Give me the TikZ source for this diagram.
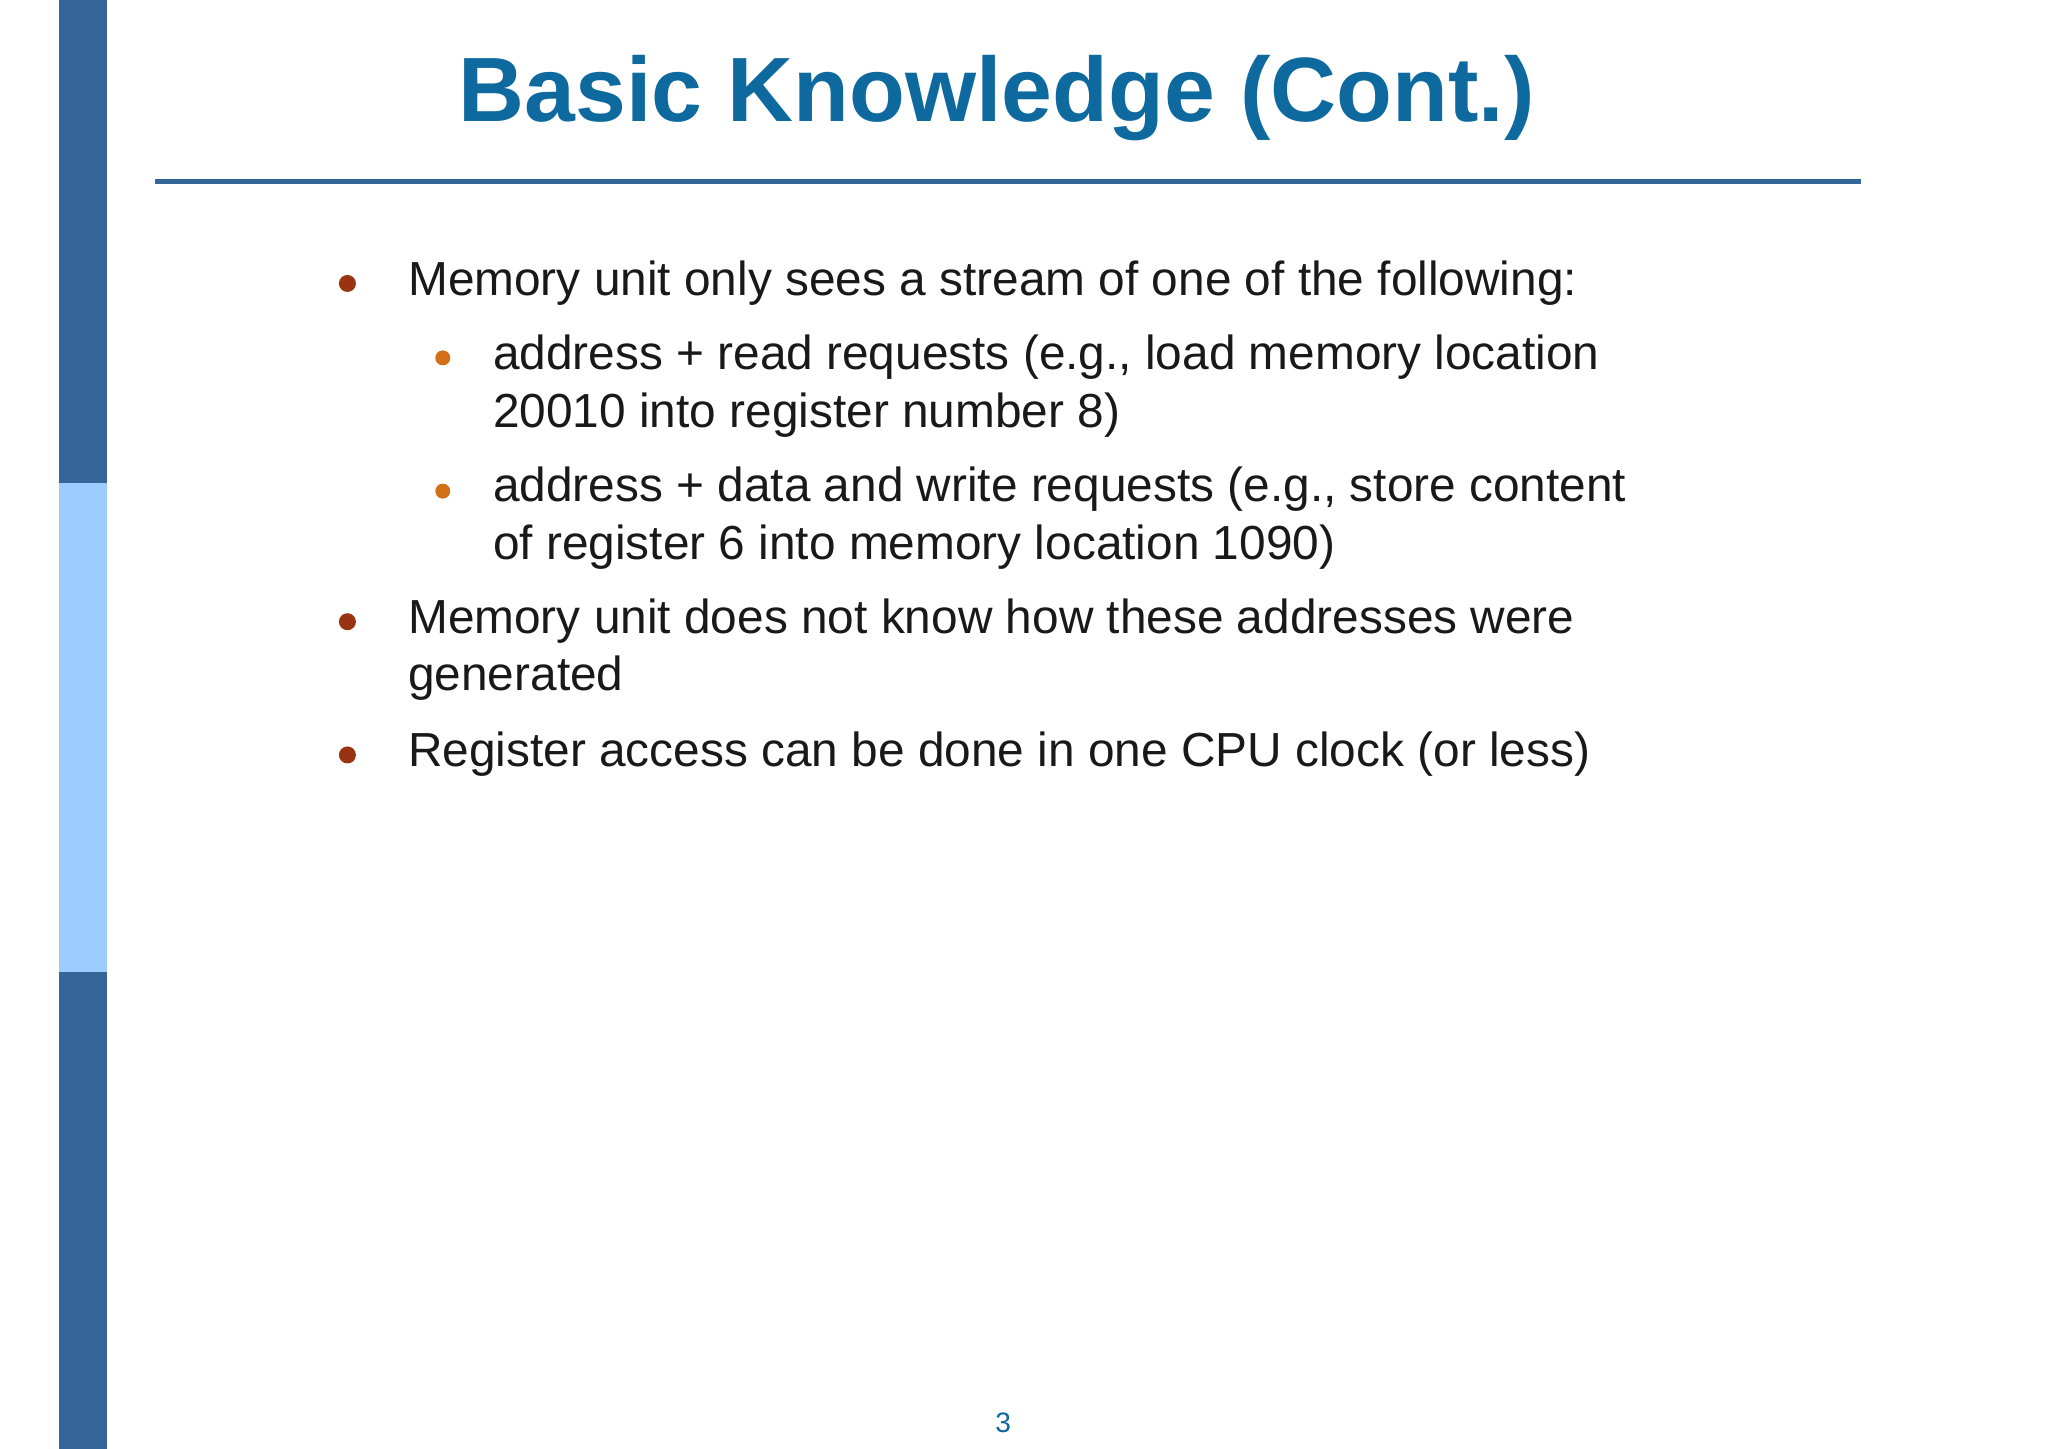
\documentclass[tikz,border=0pt]{standalone}
\usepackage{fontspec}
\setmainfont{Liberation Sans}
\definecolor{darkbar}{HTML}{346699}
\definecolor{lightbar}{HTML}{9DCCFF}
\definecolor{titleblue}{HTML}{0E6A9E}
\definecolor{bul1}{HTML}{993311}
\definecolor{bul2}{HTML}{D2701A}
\begin{document}
\begin{tikzpicture}[x=0.013061cm,y=-0.013061cm,
  body/.style={anchor=base west,inner sep=0pt,font=\fontsize{13.6}{16}\selectfont,text=black!90},
  dot1/.style={circle,fill=bul1,inner sep=0pt,minimum size=0.17cm},
  dot2/.style={circle,fill=bul2,inner sep=0pt,minimum size=0.15cm}]
\useasboundingbox (0,0) rectangle (1568,1109);
\fill[darkbar] (45,0) rectangle (82,370);
\fill[lightbar] (45,370) rectangle (82,744);
\fill[darkbar] (45,744) rectangle (82,1109);
\node[font=\fontsize{26}{30}\selectfont\bfseries,text=titleblue] (title) at (763,75) {Basic Knowledge (Cont.)};
\draw[darkbar,line width=1.2pt] (119,139) -- (1425,139);
\node[dot1] (b1) at (266,217) {};
\node[body] (t1) at (312,226) {Memory unit only sees a stream of one of the following:};
\node[dot2] (s1) at (339,274) {};
\node[body] (t2) at (377,283) {address + read requests (e.g., load memory location};
\node[body] (t3) at (377,327) {20010 into register number 8)};
\node[dot2] (s2) at (339,376) {};
\node[body] (t4) at (377,384) {address + data and write requests (e.g., store content};
\node[body] (t5) at (377,428) {of register 6 into memory location 1090)};
\node[dot1] (b2) at (266,476) {};
\node[body] (t6) at (312,485) {Memory unit does not know how these addresses were};
\node[body] (t7) at (312,529) {generated};
\node[dot1] (b3) at (266,578) {};
\node[body] (t8) at (312,587) {Register access can be done in one CPU clock (or less)};
\node[font=\fontsize{8}{10}\selectfont,text=titleblue] (pg) at (768,1089) {3};
\end{tikzpicture}
\end{document}
